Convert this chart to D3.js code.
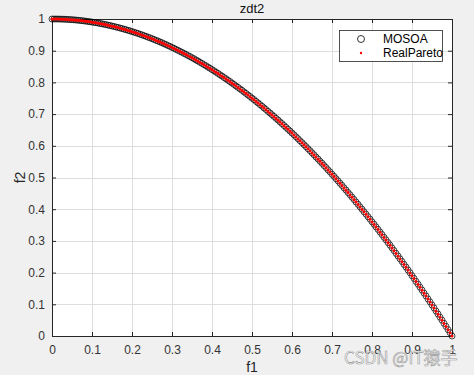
<!DOCTYPE html>
<html>
<head>
<meta charset="utf-8">
<script src="https://cdn.jsdelivr.net/npm/d3@7.9.0/dist/d3.min.js"></script>
<style>
html, body { margin: 0; padding: 0; background: #f0f0f0; }
svg { display: block; font-family: "Liberation Sans", Arial, sans-serif; }
</style>
</head>
<body>
<svg id="chart" width="474" height="375"></svg>
<script>
const title = 'zdt2';
const xLabel = 'f1';
const yLabel = 'f2';
const seriesNames = ['MOSOA', 'RealPareto'];
const xTicks = [0, 0.1, 0.2, 0.3, 0.4, 0.5, 0.6, 0.7, 0.8, 0.9, 1];
const yTicks = [0, 0.1, 0.2, 0.3, 0.4, 0.5, 0.6, 0.7, 0.8, 0.9, 1];

// MOSOA solutions
const mosoaF1 = [
    0, 0.005, 0.015, 0.025, 0.035, 0.045, 0.055, 0.065, 0.075, 0.085, 0.095,
    0.105, 0.115, 0.125, 0.135, 0.145, 0.155, 0.165, 0.175, 0.185, 0.195,
    0.205, 0.215, 0.225, 0.235, 0.245, 0.255, 0.265, 0.275, 0.285, 0.295,
    0.305, 0.315, 0.325, 0.335, 0.345, 0.355, 0.365, 0.375, 0.385, 0.395,
    0.405, 0.415, 0.425, 0.435, 0.445, 0.455, 0.465, 0.475, 0.485, 0.495,
    0.505, 0.515, 0.525, 0.535, 0.545, 0.555, 0.565, 0.575, 0.585, 0.595,
    0.605, 0.615, 0.625, 0.635, 0.645, 0.655, 0.665, 0.675, 0.685, 0.695,
    0.705, 0.715, 0.725, 0.735, 0.745, 0.755, 0.765, 0.775, 0.785, 0.795,
    0.805, 0.815, 0.825, 0.835, 0.845, 0.855, 0.865, 0.875, 0.885, 0.895,
    0.905, 0.915, 0.925, 0.935, 0.945, 0.955, 0.965, 0.975, 0.985, 0.995, 1,
    0.01, 0.02, 0.03, 0.04, 0.05, 0.06, 0.07, 0.08, 0.09, 0.10,
    0.11, 0.12, 0.13, 0.14, 0.15, 0.16, 0.17, 0.18, 0.19, 0.20,
    0.21, 0.22, 0.23, 0.24, 0.25, 0.26, 0.27, 0.28, 0.29, 0.30,
    0.31, 0.32, 0.33, 0.34, 0.35, 0.36, 0.37, 0.38, 0.39, 0.40,
    0.41, 0.42, 0.43, 0.44, 0.45, 0.46, 0.47, 0.48, 0.49, 0.50,
    0.51, 0.52, 0.53, 0.54, 0.55, 0.56, 0.57, 0.58, 0.59, 0.60,
    0.61, 0.62, 0.63, 0.64, 0.65, 0.66, 0.67, 0.68, 0.69, 0.70,
    0.71, 0.72, 0.73, 0.74, 0.75, 0.76, 0.77, 0.78, 0.79, 0.80,
    0.81, 0.82, 0.83, 0.84, 0.85, 0.86, 0.87, 0.88, 0.89, 0.90,
    0.91, 0.92, 0.93, 0.94, 0.95, 0.96, 0.97, 0.98, 0.99
];
const mosoaF2 = [
    1, 1.0000, 0.9999, 0.9996, 0.9990, 0.9982, 0.9973, 0.9961, 0.9947, 0.9932, 0.9914,
    0.9893, 0.9872, 0.9848, 0.9823, 0.9795, 0.9764, 0.9733, 0.9699, 0.9663, 0.9626,
    0.9585, 0.9544, 0.9499, 0.9453, 0.9406, 0.9355, 0.9304, 0.9250, 0.9194, 0.9136,
    0.9076, 0.9014, 0.8950, 0.8884, 0.8816, 0.8746, 0.8674, 0.8600, 0.8524, 0.8446,
    0.8366, 0.8284, 0.8200, 0.8114, 0.8026, 0.7936, 0.7844, 0.7750, 0.7654, 0.7556,
    0.7456, 0.7354, 0.7250, 0.7144, 0.7036, 0.6926, 0.6814, 0.6700, 0.6584, 0.6466,
    0.6346, 0.6224, 0.6100, 0.5974, 0.5846, 0.5716, 0.5584, 0.5450, 0.5314, 0.5176,
    0.5036, 0.4894, 0.4750, 0.4604, 0.4456, 0.4306, 0.4154, 0.4000, 0.3844, 0.3686,
    0.3526, 0.3364, 0.3200, 0.3034, 0.2866, 0.2696, 0.2524, 0.2350, 0.2174, 0.1996,
    0.1816, 0.1634, 0.1450, 0.1264, 0.1076, 0.0886, 0.0694, 0.0500, 0.0304, 0.0106, 0,
    1.0000, 0.9997, 0.9993, 0.9986, 0.9978, 0.9967, 0.9954, 0.9939, 0.9922, 0.9903,
    0.9882, 0.9859, 0.9834, 0.9807, 0.9778, 0.9747, 0.9714, 0.9679, 0.9642, 0.9603,
    0.9562, 0.9519, 0.9474, 0.9427, 0.9378, 0.9327, 0.9274, 0.9219, 0.9162, 0.9103,
    0.9042, 0.8979, 0.8914, 0.8847, 0.8778, 0.8707, 0.8634, 0.8559, 0.8482, 0.8403,
    0.8322, 0.8239, 0.8154, 0.8067, 0.7978, 0.7887, 0.7794, 0.7699, 0.7602, 0.7503,
    0.7402, 0.7299, 0.7194, 0.7087, 0.6978, 0.6867, 0.6754, 0.6639, 0.6522, 0.6403,
    0.6282, 0.6159, 0.6034, 0.5907, 0.5778, 0.5647, 0.5514, 0.5379, 0.5242, 0.5103,
    0.4962, 0.4819, 0.4674, 0.4527, 0.4378, 0.4227, 0.4074, 0.3919, 0.3762, 0.3603,
    0.3442, 0.3279, 0.3114, 0.2947, 0.2778, 0.2607, 0.2434, 0.2259, 0.2082, 0.1903,
    0.1722, 0.1539, 0.1354, 0.1167, 0.0978, 0.0787, 0.0594, 0.0399, 0.0202
];

// true Pareto front samples
const paretoF1 = [
    0, 0.005, 0.01, 0.015, 0.02, 0.025, 0.03, 0.035, 0.04, 0.045,
    0.05, 0.055, 0.06, 0.065, 0.07, 0.075, 0.08, 0.085, 0.09, 0.095,
    0.1, 0.105, 0.11, 0.115, 0.12, 0.125, 0.13, 0.135, 0.14, 0.145,
    0.15, 0.155, 0.16, 0.165, 0.17, 0.175, 0.18, 0.185, 0.19, 0.195,
    0.2, 0.205, 0.21, 0.215, 0.22, 0.225, 0.23, 0.235, 0.24, 0.245,
    0.25, 0.255, 0.26, 0.265, 0.27, 0.275, 0.28, 0.285, 0.29, 0.295,
    0.3, 0.305, 0.31, 0.315, 0.32, 0.325, 0.33, 0.335, 0.34, 0.345,
    0.35, 0.355, 0.36, 0.365, 0.37, 0.375, 0.38, 0.385, 0.39, 0.395,
    0.4, 0.405, 0.41, 0.415, 0.42, 0.425, 0.43, 0.435, 0.44, 0.445,
    0.45, 0.455, 0.46, 0.465, 0.47, 0.475, 0.48, 0.485, 0.49, 0.495,
    0.5, 0.505, 0.51, 0.515, 0.52, 0.525, 0.53, 0.535, 0.54, 0.545,
    0.55, 0.555, 0.56, 0.565, 0.57, 0.575, 0.58, 0.585, 0.59, 0.595,
    0.6, 0.605, 0.61, 0.615, 0.62, 0.625, 0.63, 0.635, 0.64, 0.645,
    0.65, 0.655, 0.66, 0.665, 0.67, 0.675, 0.68, 0.685, 0.69, 0.695,
    0.7, 0.705, 0.71, 0.715, 0.72, 0.725, 0.73, 0.735, 0.74, 0.745,
    0.75, 0.755, 0.76, 0.765, 0.77, 0.775, 0.78, 0.785, 0.79, 0.795,
    0.8, 0.805, 0.81, 0.815, 0.82, 0.825, 0.83, 0.835, 0.84, 0.845,
    0.85, 0.855, 0.86, 0.865, 0.87, 0.875, 0.88, 0.885, 0.89, 0.895,
    0.9, 0.905, 0.91, 0.915, 0.92, 0.925, 0.93, 0.935, 0.94, 0.945,
    0.95, 0.955, 0.96, 0.965, 0.97, 0.975, 0.98, 0.985, 0.99, 0.995,
    1
];
const paretoF2 = [
    1, 1.0000, 0.9999, 0.9998, 0.9996, 0.9994, 0.9991, 0.9988, 0.9984, 0.9980,
    0.9975, 0.9970, 0.9964, 0.9958, 0.9951, 0.9944, 0.9936, 0.9928, 0.9919, 0.9910,
    0.99, 0.9890, 0.9879, 0.9868, 0.9856, 0.9844, 0.9831, 0.9818, 0.9804, 0.9790,
    0.9775, 0.9760, 0.9744, 0.9728, 0.9711, 0.9694, 0.9676, 0.9658, 0.9639, 0.9620,
    0.96, 0.9580, 0.9559, 0.9538, 0.9516, 0.9494, 0.9471, 0.9448, 0.9424, 0.9400,
    0.9375, 0.9350, 0.9324, 0.9298, 0.9271, 0.9244, 0.9216, 0.9188, 0.9159, 0.9130,
    0.91, 0.9070, 0.9039, 0.9008, 0.8976, 0.8944, 0.8911, 0.8878, 0.8844, 0.8810,
    0.8775, 0.8740, 0.8704, 0.8668, 0.8631, 0.8594, 0.8556, 0.8518, 0.8479, 0.8440,
    0.84, 0.8360, 0.8319, 0.8278, 0.8236, 0.8194, 0.8151, 0.8108, 0.8064, 0.8020,
    0.7975, 0.7930, 0.7884, 0.7838, 0.7791, 0.7744, 0.7696, 0.7648, 0.7599, 0.7550,
    0.75, 0.7450, 0.7399, 0.7348, 0.7296, 0.7244, 0.7191, 0.7138, 0.7084, 0.7030,
    0.6975, 0.6920, 0.6864, 0.6808, 0.6751, 0.6694, 0.6636, 0.6578, 0.6519, 0.6460,
    0.64, 0.6340, 0.6279, 0.6218, 0.6156, 0.6094, 0.6031, 0.5968, 0.5904, 0.5840,
    0.5775, 0.5710, 0.5644, 0.5578, 0.5511, 0.5444, 0.5376, 0.5308, 0.5239, 0.5170,
    0.51, 0.5030, 0.4959, 0.4888, 0.4816, 0.4744, 0.4671, 0.4598, 0.4524, 0.4450,
    0.4375, 0.4300, 0.4224, 0.4148, 0.4071, 0.3994, 0.3916, 0.3838, 0.3759, 0.3680,
    0.36, 0.3520, 0.3439, 0.3358, 0.3276, 0.3194, 0.3111, 0.3028, 0.2944, 0.2860,
    0.2775, 0.2690, 0.2604, 0.2518, 0.2431, 0.2344, 0.2256, 0.2168, 0.2079, 0.1990,
    0.19, 0.1810, 0.1719, 0.1628, 0.1536, 0.1444, 0.1351, 0.1258, 0.1164, 0.1070,
    0.0975, 0.0880, 0.0784, 0.0688, 0.0591, 0.0494, 0.0396, 0.0298, 0.0199, 0.0100,
    0
];

const svg = d3.select('#chart');
const margin = { top: 19, right: 22, bottom: 39, left: 52 };
const width = 474 - margin.left - margin.right;
const height = 375 - margin.top - margin.bottom;
const axisColor = '#262626';

const x = d3.scaleLinear().domain([0, 1]).range([0, width]);
const y = d3.scaleLinear().domain([0, 1]).range([height, 0]);
const fmt = d3.format('~g');

const g = svg.append('g')
    .attr('transform', `translate(${margin.left},${margin.top})`);

g.append('rect')
    .attr('width', width)
    .attr('height', height)
    .attr('fill', '#fff');

// grid
g.append('g')
    .selectAll('line')
    .data(xTicks)
    .join('line')
    .attr('x1', d => Math.round(x(d)) + 0.5)
    .attr('x2', d => Math.round(x(d)) + 0.5)
    .attr('y1', 0)
    .attr('y2', height)
    .attr('stroke', '#dedede');

g.append('g')
    .selectAll('line')
    .data(yTicks)
    .join('line')
    .attr('y1', d => Math.round(y(d)) + 0.5)
    .attr('y2', d => Math.round(y(d)) + 0.5)
    .attr('x1', 0)
    .attr('x2', width)
    .attr('stroke', '#dedede');

// axes, ticks pointing inward on all four sides
function styleAxis(sel) {
    sel.select('.domain').attr('stroke', axisColor);
    sel.selectAll('.tick line').attr('stroke', axisColor);
    sel.selectAll('.tick text')
        .attr('fill', '#333')
        .style('font-size', '12px')
        .style('font-family', '"Liberation Sans", Arial, sans-serif');
}

g.append('g')
    .attr('transform', `translate(0,${height})`)
    .call(d3.axisBottom(x).tickValues(xTicks).tickFormat(fmt)
        .tickSizeInner(-4).tickSizeOuter(0).tickPadding(9))
    .call(styleAxis);

g.append('g')
    .call(d3.axisLeft(y).tickValues(yTicks).tickFormat(fmt)
        .tickSizeInner(-4).tickSizeOuter(0).tickPadding(7))
    .call(styleAxis);

g.append('g')
    .call(d3.axisTop(x).tickValues(xTicks).tickFormat('')
        .tickSizeInner(-4).tickSizeOuter(0))
    .call(styleAxis);

g.append('g')
    .attr('transform', `translate(${width},0)`)
    .call(d3.axisRight(y).tickValues(yTicks).tickFormat('')
        .tickSizeInner(-4).tickSizeOuter(0))
    .call(styleAxis);

// MOSOA circles
g.append('g')
    .selectAll('circle')
    .data(d3.zip(mosoaF1, mosoaF2))
    .join('circle')
    .attr('cx', d => x(d[0]))
    .attr('cy', d => y(d[1]))
    .attr('r', 3)
    .attr('fill', 'none')
    .attr('stroke', '#000')
    .attr('stroke-width', 0.7);

// RealPareto dots
g.append('g')
    .selectAll('circle')
    .data(d3.zip(paretoF1, paretoF2))
    .join('circle')
    .attr('cx', d => x(d[0]))
    .attr('cy', d => y(d[1]))
    .attr('r', 1.5)
    .attr('fill', '#ff0000');

// title and labels
svg.append('text')
    .attr('x', margin.left + width / 2)
    .attr('y', 13)
    .attr('text-anchor', 'middle')
    .attr('fill', '#111')
    .style('font-size', '13px')
    .text(title);

svg.append('text')
    .attr('x', margin.left + width / 2)
    .attr('y', 372)
    .attr('text-anchor', 'middle')
    .attr('fill', '#262626')
    .style('font-size', '14px')
    .text(xLabel);

svg.append('text')
    .attr('transform', `translate(25,${margin.top + height / 2}) rotate(-90)`)
    .attr('text-anchor', 'middle')
    .attr('fill', '#262626')
    .style('font-size', '14px')
    .text(yLabel);

// legend
const legend = svg.append('g').attr('transform', 'translate(339.5,30.5)');
legend.append('rect')
    .attr('width', 103)
    .attr('height', 31)
    .attr('fill', '#fff')
    .attr('stroke', axisColor)
    .attr('stroke-width', 0.8);

legend.append('circle')
    .attr('cx', 21.5)
    .attr('cy', 8.5)
    .attr('r', 3.5)
    .attr('fill', 'none')
    .attr('stroke', '#000')
    .attr('stroke-width', 0.8);

legend.append('circle')
    .attr('cx', 21.5)
    .attr('cy', 22.5)
    .attr('r', 1.2)
    .attr('fill', '#ff0000');

legend.selectAll('text')
    .data(seriesNames)
    .join('text')
    .attr('x', 43.5)
    .attr('y', (d, i) => 8.5 + i * 14)
    .attr('dy', '0.35em')
    .attr('fill', '#000')
    .style('font-size', '12px')
    .text(d => d);

// watermark
svg.append('text')
    .attr('x', 344)
    .attr('y', 364)
    .attr('fill', '#ffffff')
    .attr('fill-opacity', 0.75)
    .attr('stroke', '#9a9a9a')
    .attr('stroke-width', 0.6)
    .style('font-family', '"Noto Sans CJK SC", "Noto Sans", sans-serif')
    .style('font-size', '17px')
    .text('CSDN @IT猿手');
</script>
</body>
</html>
